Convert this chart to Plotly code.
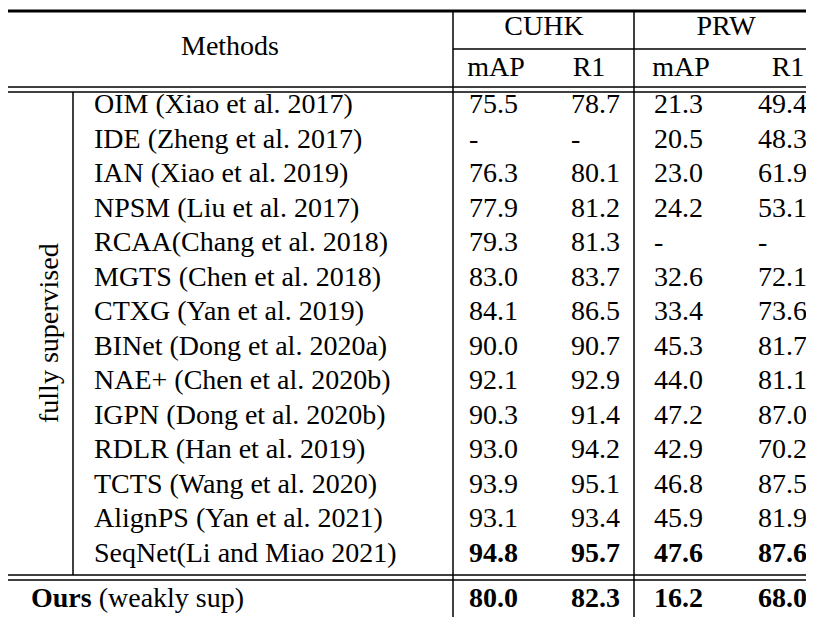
import plotly.graph_objects as go

methods = ["OIM (Xiao et al. 2017)", "IDE (Zheng et al. 2017)", "IAN (Xiao et al. 2019)",
           "NPSM (Liu et al. 2017)", "RCAA(Chang et al. 2018)", "MGTS (Chen et al. 2018)",
           "CTXG (Yan et al. 2019)", "BINet (Dong et al. 2020a)", "NAE+ (Chen et al. 2020b)",
           "IGPN (Dong et al. 2020b)", "RDLR (Han et al. 2019)", "TCTS (Wang et al. 2020)",
           "AlignPS (Yan et al. 2021)", "SeqNet(Li and Miao 2021)"]
cuhk_map = ["75.5", "-", "76.3", "77.9", "79.3", "83.0", "84.1", "90.0", "92.1", "90.3", "93.0", "93.9", "93.1", "94.8"]
cuhk_r1 = ["78.7", "-", "80.1", "81.2", "81.3", "83.7", "86.5", "90.7", "92.9", "91.4", "94.2", "95.1", "93.4", "95.7"]
prw_map = ["21.3", "20.5", "23.0", "24.2", "-", "32.6", "33.4", "45.3", "44.0", "47.2", "42.9", "46.8", "45.9", "47.6"]
prw_r1 = ["49.4", "48.3", "61.9", "53.1", "-", "72.1", "73.6", "81.7", "81.1", "87.0", "70.2", "87.5", "81.9", "87.6"]
ours = ["80.0", "82.3", "16.2", "68.0"]

F = "Liberation Serif"
FS = 28
row_y = [98 + 34.5 * i for i in range(len(methods))]
last = len(methods) - 1

def b(v, i):
    return f"<b>{v}</b>" if i == last else v

fig = go.Figure()
fig.add_trace(go.Scatter(x=[86] * len(methods), y=row_y, text=methods, mode="text",
                         textposition="middle right", textfont=dict(family=F, size=FS, color="black")))
for xc, col in [(461, cuhk_map), (563, cuhk_r1), (646, prw_map), (750, prw_r1)]:
    fig.add_trace(go.Scatter(x=[xc] * len(col), y=row_y, text=[b(v, i) for i, v in enumerate(col)],
                             mode="text", textposition="middle right",
                             textfont=dict(family=F, size=FS, color="black")))
fig.add_trace(go.Scatter(x=[461, 563, 646, 750], y=[592] * 4, text=[f"<b>{v}</b>" for v in ours],
                         mode="text", textposition="middle right",
                         textfont=dict(family=F, size=FS, color="black")))
fig.add_trace(go.Scatter(x=[23], y=[592], text=["<b>Ours</b> (weakly sup)"], mode="text",
                         textposition="middle right", textfont=dict(family=F, size=FS, color="black")))
fig.add_trace(go.Scatter(x=[222, 536, 718, 488, 581, 673, 780], y=[40, 20, 20, 61, 61, 61, 61],
                         text=["Methods", "CUHK", "PRW", "mAP", "R1", "mAP", "R1"], mode="text",
                         textposition="middle center", textfont=dict(family=F, size=FS, color="black")))

fig.add_annotation(x=40, y=325, text="fully supervised", textangle=-90, showarrow=False,
                   font=dict(family=F, size=FS, color="black"))

def hl(y, x0=0, x1=814, w=1.5):
    fig.add_shape(type="line", x0=x0, x1=x1, y0=y, y1=y, line=dict(color="black", width=w))

def vl(x, y0, y1, w=1.5):
    fig.add_shape(type="line", x0=x, x1=x, y0=y0, y1=y1, line=dict(color="black", width=w))

hl(3, w=3)
hl(41, 445, 814)
hl(79)
hl(84)
hl(567)
hl(572)
hl(612)
vl(445, 3, 612)
vl(626, 3, 612)
vl(65, 84, 567)

fig.update_layout(width=814, height=617, margin=dict(l=0, r=0, t=0, b=0),
                  paper_bgcolor="white", plot_bgcolor="white", showlegend=False,
                  xaxis=dict(range=[0, 814], visible=False, fixedrange=True),
                  yaxis=dict(range=[617, 0], visible=False, fixedrange=True))
fig.write_html("out.html")
